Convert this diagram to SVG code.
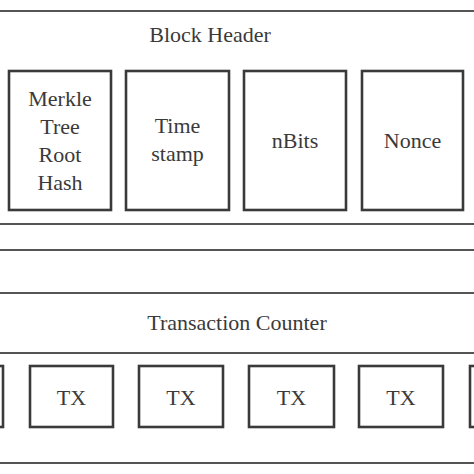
<svg xmlns="http://www.w3.org/2000/svg" width="474" height="474" viewBox="0 0 474 474">
<style>
.hl{stroke:#555;stroke-width:2.2;fill:none}
.bx{fill:#fff;stroke:#3a3a3a;stroke-width:2.6}
.t{font-family:'Liberation Serif','Tinos','DejaVu Serif',serif;font-size:22px;fill:#3a3a3a;text-anchor:middle}
</style>
<rect width="474" height="474" fill="#fff"/>
<g id="connectors">
<line class="hl" x1="0" y1="11" x2="474" y2="11"/>
<line class="hl" x1="0" y1="224" x2="474" y2="224"/>
<line class="hl" x1="0" y1="250" x2="474" y2="250"/>
<line class="hl" x1="0" y1="293" x2="474" y2="293"/>
<line class="hl" x1="0" y1="353" x2="474" y2="353"/>
<line class="hl" x1="0" y1="463" x2="474" y2="463"/>
</g>
<g id="block-header"><text class="t" x="210" y="42">Block Header</text></g>
<g id="merkle"><rect class="bx" x="9" y="71" width="102" height="139"/>
<text class="t" x="60" y="106">Merkle</text><text class="t" x="60" y="134">Tree</text><text class="t" x="60" y="162">Root</text><text class="t" x="60" y="190">Hash</text></g>
<g id="timestamp"><rect class="bx" x="126" y="71" width="103" height="139"/>
<text class="t" x="177.5" y="133">Time</text><text class="t" x="177.5" y="161">stamp</text></g>
<g id="nbits"><rect class="bx" x="244" y="71" width="102" height="139"/>
<text class="t" x="295" y="148">nBits</text></g>
<g id="nonce"><rect class="bx" x="362" y="71" width="101" height="139"/>
<text class="t" x="412.5" y="148">Nonce</text></g>
<g id="transaction-counter"><text class="t" x="237" y="330">Transaction Counter</text></g>
<g id="tx0"><rect class="bx" x="-80" y="366" width="83" height="61"/></g>
<g id="tx1"><rect class="bx" x="30" y="366" width="83" height="61"/><text class="t" x="71.5" y="405">TX</text></g>
<g id="tx2"><rect class="bx" x="139" y="366" width="84" height="61"/><text class="t" x="181" y="405">TX</text></g>
<g id="tx3"><rect class="bx" x="249" y="366" width="85" height="61"/><text class="t" x="291.5" y="405">TX</text></g>
<g id="tx4"><rect class="bx" x="359" y="366" width="84" height="61"/><text class="t" x="401" y="405">TX</text></g>
<g id="tx5"><rect class="bx" x="470" y="366" width="83" height="61"/></g>
</svg>
